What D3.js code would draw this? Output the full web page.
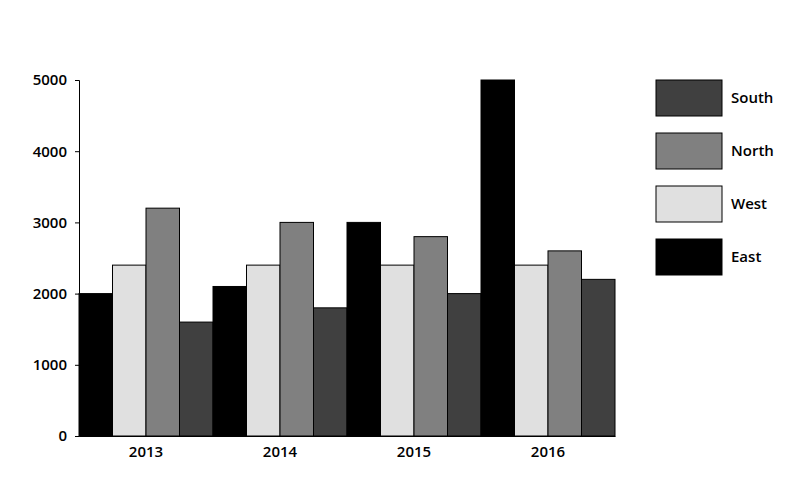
<!DOCTYPE html>
<html><head><meta charset="utf-8">
<script src="https://cdn.jsdelivr.net/npm/d3@7"></script>
<style>body{margin:0;background:#fff}text{font-family:"Open Sans",sans-serif;font-weight:600}</style>
</head><body><svg width="800" height="500"></svg>
<script>
const years = ["2013","2014","2015","2016"];
const seriesNames = ["East","West","North","South"];
const East = [2000,2100,3000,5000];
const West = [2400,2400,2400,2400];
const North = [3200,3000,2800,2600];
const South = [1600,1800,2000,2200];
const yTicks = [0,1000,2000,3000,4000,5000];
const legendOrder = ["South","North","West","East"];
const colors = {East:"#000000",West:"#e0e0e0",North:"#808080",South:"#404040"};
const values = {East,West,North,South};

const svg = d3.select("svg");
const x0 = d3.scaleBand().domain(years).range([79,615]).padding(0);
const x1 = d3.scaleBand().domain(seriesNames).range([0,x0.bandwidth()]).padding(0);
const y = d3.scaleLinear().domain([0,5000]).range([436,80]);

const g = svg.append("g");
years.forEach((yr,i)=>{
  seriesNames.forEach(s=>{
    g.append("rect").attr("x",x0(yr)+x1(s)).attr("y",y(values[s][i]))
     .attr("width",x1.bandwidth()).attr("height",y(0)-y(values[s][i]))
     .attr("fill",colors[s]).attr("stroke","#000").attr("stroke-width",1);
  });
});

const ya = svg.append("g").attr("transform","translate(79,0)")
  .call(d3.axisLeft(y).tickValues(yTicks).tickSize(4).tickPadding(8).tickFormat(d3.format("d")));
ya.selectAll("text").style("font-size","15px").attr("fill","#000");
ya.select(".domain").attr("stroke","#000");
const xa = svg.append("g").attr("transform","translate(0,436)")
  .call(d3.axisBottom(x0).tickSize(0).tickPadding(10));
xa.selectAll("text").style("font-size","15px").attr("fill","#000");
xa.select(".domain").attr("stroke","#000");

const lg = svg.append("g");
legendOrder.forEach((s,i)=>{
  lg.append("rect").attr("x",656).attr("y",80+i*53).attr("width",66).attr("height",36)
    .attr("fill",colors[s]).attr("stroke","#000");
  lg.append("text").attr("x",731).attr("y",98+i*53).attr("dy","0.35em")
    .style("font-size","15px").text(s);
});
</script></body></html>
